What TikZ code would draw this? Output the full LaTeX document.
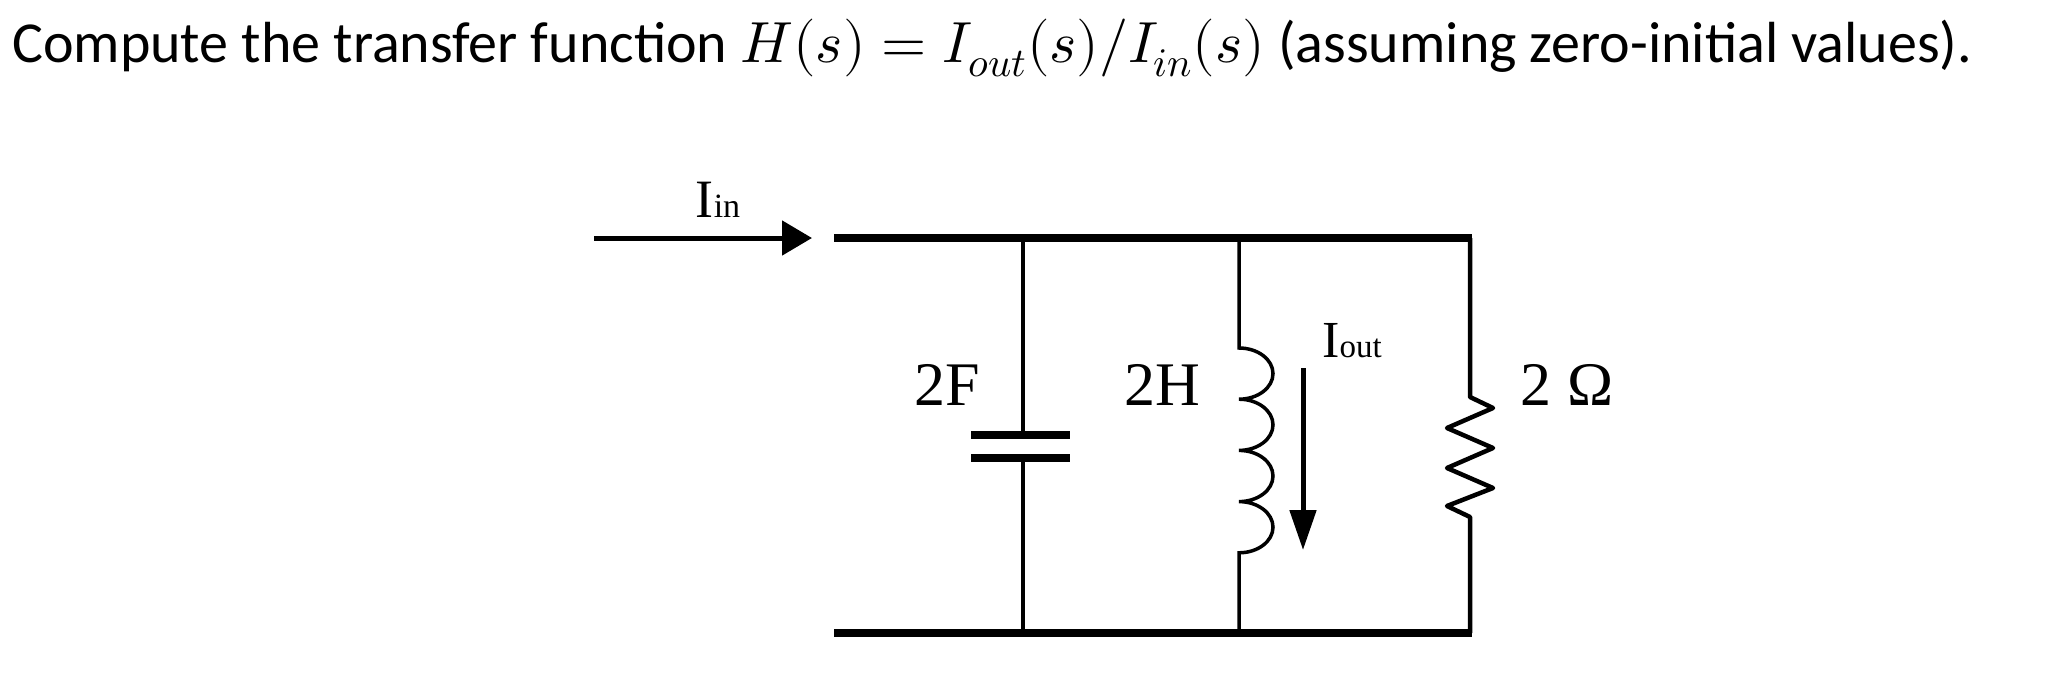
\documentclass[tikz,border=0pt]{standalone}
\usepackage{fontspec}
\setmainfont{Carlito}
\newfontfamily\tnr{Liberation Serif}
\usepackage{unicode-math}
\setmathfont{Latin Modern Math}
\usetikzlibrary{arrows.meta}
\begin{document}
\begin{tikzpicture}[x=1pt,y=-1pt,
  bus/.style={line width=8pt},
  wire/.style={line width=3.5pt},
  lab/.style={font=\tnr\fontsize{62}{62}\selectfont, inner sep=0pt}]
\useasboundingbox (0,0) rectangle (2046,688);
\node[anchor=west, inner sep=0pt, font=\fontsize{58}{64}\selectfont] (title) at (12,48)
  {Compute the transfer function $H(s)=I_{out}(s)/I_{in}(s)$ (assuming zero-initial values).};
% coordinates
\coordinate (tl) at (834,238); \coordinate (tr) at (1472,238);
\coordinate (bl) at (834,633); \coordinate (br) at (1472,633);
\coordinate (ct) at (1023,238); \coordinate (cb) at (1023,633);
\coordinate (lt) at (1239,238); \coordinate (lb) at (1239,633);
\coordinate (rt) at (1470,238); \coordinate (rb) at (1470,633);
\coordinate (a0) at (594,238); \coordinate (a1) at (812,238);
\draw[bus] (tl) -- (tr);
\draw[bus] (bl) -- (br);
\draw[line width=5pt, -{Triangle[length=30pt,width=34pt]}] (a0) -- (a1);
% capacitor
\draw[wire] (ct) -- (1023,435) (1023,458) -- (cb);
\draw[line width=8pt] (971,435) -- (1070,435) (971,458) -- (1070,458);
% inductor
\draw[wire] (lt) -- (1239,348) arc[start angle=-90,end angle=90,x radius=34,y radius=25.6]
  arc[start angle=-90,end angle=90,x radius=34,y radius=25.6]
  arc[start angle=-90,end angle=90,x radius=34,y radius=25.6]
  arc[start angle=-90,end angle=90,x radius=34,y radius=25.6] -- (lb);
% resistor
\draw[line width=4.5pt, line join=round] (rt) -- (1470,397) -- (1493,408) -- (1447,428) -- (1493,448)
  -- (1447,468) -- (1493,488) -- (1447,506) -- (1470,517) -- (rb);
% Iout arrow
\coordinate (o0) at (1303,368); \coordinate (o1) at (1303,550);
\draw[line width=5pt, -{Triangle[length=40pt,width=26pt]}] (o0) -- (o1);
% labels
\node[lab] (l2f) at (947,385) {2F};
\node[lab] (l2h) at (1162,385) {2H};
\node[lab] (l2r) at (1567,385) {2 Ω};
\node[inner sep=0pt, font=\tnr] (lin) at (718,200) {{\fontsize{54}{54}\selectfont I}{\fontsize{34}{34}\selectfont in}};
\node[inner sep=0pt, font=\tnr] (lout) at (1352,341) {{\fontsize{52}{52}\selectfont I}{\fontsize{33}{33}\selectfont out}};
\end{tikzpicture}
\end{document}
